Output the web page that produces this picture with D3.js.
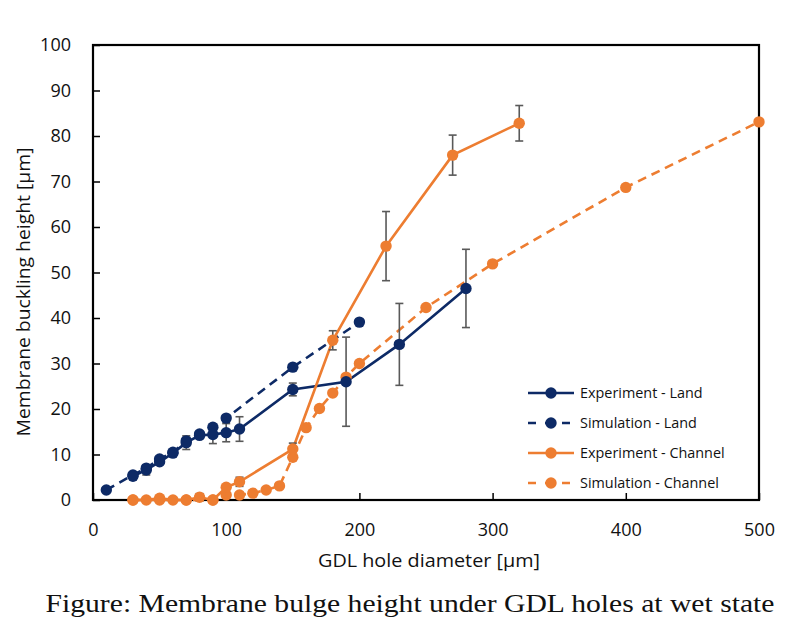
<!DOCTYPE html>
<html>
<head>
<meta charset="utf-8">
<script src="https://cdn.jsdelivr.net/npm/d3@7"></script>
<style>
  body { margin: 0; background: #fff; }
  svg { display: block; }
</style>
</head>
<body>
<svg id="chart"></svg>
<script>
// values (x = hole diameter µm, y = buckling height µm, e = error)
const expLand = [
    { x: 30, y: 5.2 }, { x: 40, y: 6.6, e: 1.1 }, { x: 50, y: 8.4 }, { x: 60, y: 10.3 },
    { x: 70, y: 12.6, e: 1.5 }, { x: 80, y: 14.2 }, { x: 90, y: 14.4, e: 2 },
    { x: 100, y: 14.8, e: 2 }, { x: 110, y: 15.6, e: 2.7 }, { x: 150, y: 24.3, e: 1.4 },
    { x: 190, y: 26, e: 9.8 }, { x: 230, y: 34.2, e: 9 }, { x: 280, y: 46.5, e: 8.6 }
];
const simLand = [
    { x: 10, y: 2.2 }, { x: 30, y: 5.5 }, { x: 40, y: 7 }, { x: 50, y: 9 }, { x: 60, y: 10.5 },
    { x: 70, y: 13 }, { x: 80, y: 14.5 }, { x: 90, y: 16 }, { x: 100, y: 18 },
    { x: 150, y: 29.2 }, { x: 200, y: 39.1 }
];
const expChannel = [
    { x: 30, y: 0 }, { x: 40, y: 0 }, { x: 50, y: 0.4 }, { x: 60, y: 0 }, { x: 70, y: 0 },
    { x: 80, y: 0.6, e: 0.8 }, { x: 90, y: 0 }, { x: 100, y: 2.8 }, { x: 110, y: 4, e: 1 },
    { x: 150, y: 11.2, e: 1.3 }, { x: 180, y: 35.1, e: 2.1 }, { x: 220, y: 55.8, e: 7.6 },
    { x: 270, y: 75.8, e: 4.4 }, { x: 320, y: 82.8, e: 3.9 }
];
const simChannel = [
    { x: 30, y: 0 }, { x: 50, y: 0 }, { x: 70, y: 0 }, { x: 90, y: 0 }, { x: 100, y: 1.1 },
    { x: 110, y: 1.1 }, { x: 120, y: 1.5 }, { x: 130, y: 2.2 }, { x: 140, y: 3.1 },
    { x: 150, y: 9.4 }, { x: 160, y: 15.9 }, { x: 170, y: 20.1 }, { x: 180, y: 23.5 },
    { x: 190, y: 27 }, { x: 200, y: 30 }, { x: 250, y: 42.3 }, { x: 300, y: 51.9 },
    { x: 400, y: 68.7 }, { x: 500, y: 83.1 }
];
const xTicks = [0, 100, 200, 300, 400, 500];
const yTicks = [0, 10, 20, 30, 40, 50, 60, 70, 80, 90, 100];

const navy = "#0d2a66", orange = "#ed7d31", errColor = "#595959";
const series = [
    { name: "Experiment - Land", data: expLand, color: navy, dash: null },
    { name: "Simulation - Land", data: simLand, color: navy, dash: "9,6" },
    { name: "Experiment - Channel", data: expChannel, color: orange, dash: null },
    { name: "Simulation - Channel", data: simChannel, color: orange, dash: "9,6" }
];

const W = 791, H = 638;
const margin = { top: 45, right: 32, bottom: 138, left: 93 },
      width = W - margin.left - margin.right,
      height = H - margin.top - margin.bottom;

const svg = d3.select("#chart").attr("width", W).attr("height", H);
const g = svg.append("g").attr("transform", `translate(${margin.left},${margin.top})`);

const x = d3.scaleLinear().domain([0, 500]).range([0, width]);
const y = d3.scaleLinear().domain([0, 100]).range([height, 0]);

const tickFont = "'Open Sans', 'DejaVu Sans', sans-serif";

// axes with inward ticks
const xAxis = g.append("g")
    .attr("transform", `translate(0,${height})`)
    .call(d3.axisBottom(x).tickValues(xTicks).tickSizeInner(-7).tickSizeOuter(0).tickPadding(30));
const yAxis = g.append("g")
    .call(d3.axisLeft(y).tickValues(yTicks).tickSizeInner(-7).tickSizeOuter(0).tickPadding(22));
[xAxis, yAxis].forEach(a => {
    a.select(".domain").remove();
    a.selectAll("line").attr("stroke", "#000").attr("stroke-width", 1.5);
    a.selectAll("text").style("font-family", tickFont).style("font-size", "18px").attr("fill", "#111");
});
xAxis.selectAll("text").attr("dy", "0.36em");

// frame
g.append("rect")
    .attr("width", width).attr("height", height)
    .attr("fill", "none").attr("stroke", "#000").attr("stroke-width", 2.2);

// lines
const line = d3.line().x(d => x(d.x)).y(d => y(d.y));
series.forEach(s => {
    g.append("path")
        .datum(s.data)
        .attr("fill", "none")
        .attr("stroke", s.color)
        .attr("stroke-width", 2.6)
        .attr("stroke-dasharray", s.dash)
        .attr("d", line);
});

// error bars
series.forEach(s => {
    const eb = g.append("g").selectAll("g")
        .data(s.data.filter(d => d.e))
        .enter().append("g")
        .attr("stroke", errColor).attr("stroke-width", 1.6);
    eb.append("line")
        .attr("x1", d => x(d.x)).attr("x2", d => x(d.x))
        .attr("y1", d => y(d.y + d.e)).attr("y2", d => y(d.y - d.e));
    eb.append("line")
        .attr("x1", d => x(d.x) - 4).attr("x2", d => x(d.x) + 4)
        .attr("y1", d => y(d.y + d.e)).attr("y2", d => y(d.y + d.e));
    eb.append("line")
        .attr("x1", d => x(d.x) - 4).attr("x2", d => x(d.x) + 4)
        .attr("y1", d => y(d.y - d.e)).attr("y2", d => y(d.y - d.e));
});

// markers (drawn last so they sit on top)
[series[3], series[2], series[1], series[0]].forEach(s => {
    g.append("g").selectAll("circle")
        .data(s.data)
        .enter().append("circle")
        .attr("cx", d => x(d.x))
        .attr("cy", d => y(d.y))
        .attr("r", 5.7)
        .attr("fill", s.color);
});

// legend
const legend = svg.append("g").attr("transform", "translate(528,393)");
series.forEach((s, i) => {
    const row = legend.append("g").attr("transform", `translate(0,${i * 30})`);
    row.append("line")
        .attr("x1", 0).attr("x2", 46).attr("y1", 0).attr("y2", 0)
        .attr("stroke", s.color).attr("stroke-width", 2.6)
        .attr("stroke-dasharray", s.dash ? "8,9" : null);
    row.append("circle").attr("cx", 23).attr("cy", 0).attr("r", 5.7).attr("fill", s.color);
    row.append("text")
        .attr("x", 52).attr("y", 0).attr("dy", "0.35em")
        .style("font-family", tickFont).style("font-size", "14.4px")
        .attr("fill", "#111")
        .text(s.name);
});

// axis titles
svg.append("text")
    .attr("x", 429).attr("y", 567)
    .attr("text-anchor", "middle")
    .attr("textLength", 222).attr("lengthAdjust", "spacingAndGlyphs")
    .style("font-family", tickFont).style("font-size", "17.5px").attr("fill", "#111")
    .text("GDL hole diameter [µm]");

svg.append("text")
    .attr("transform", "translate(24,292) rotate(-90)")
    .attr("text-anchor", "middle").attr("dy", "0.35em")
    .attr("textLength", 289).attr("lengthAdjust", "spacingAndGlyphs")
    .style("font-family", tickFont).style("font-size", "17.5px").attr("fill", "#111")
    .text("Membrane buckling height [µm]");

// caption
svg.append("text")
    .attr("x", 410).attr("y", 612)
    .attr("text-anchor", "middle")
    .attr("textLength", 729).attr("lengthAdjust", "spacingAndGlyphs")
    .style("font-family", "'Liberation Serif', 'DejaVu Serif', serif")
    .style("font-size", "26px").attr("fill", "#111")
    .text("Figure: Membrane bulge height under GDL holes at wet state");
</script>
</body>
</html>
